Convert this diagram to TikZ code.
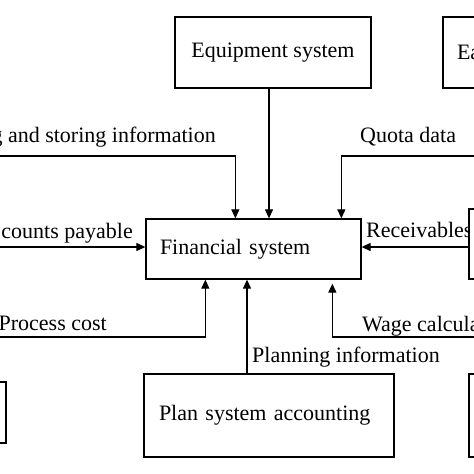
\documentclass[tikz,border=0pt]{standalone}
\usepackage{fontspec}
\setmainfont{Liberation Serif}
\usetikzlibrary{arrows.meta}
\begin{document}
\begin{tikzpicture}[x=1pt,y=-1pt, font=\fontsize{22}{26}\selectfont,
  box/.style={draw, line width=1.3pt, fill=white, inner sep=0pt},
  arr/.style={line width=1.2pt, -{Triangle[length=9pt,width=8pt]}},
  lbl/.style={inner sep=0pt}]
\useasboundingbox (0,0) rectangle (474,474);
\clip (0,0) rectangle (474,474);
\fill[white] (0,0) rectangle (474,474);
% labels
\node[lbl, anchor=base east] (t1) at (216,142) {g and storing information};
\node[lbl, anchor=base west] (t2) at (360,142) {Quota data};
\node[lbl, anchor=base east] (t3) at (133,238) {counts payable};
\node[lbl, anchor=base west] (t4) at (366,237) {Receivables};
\node[lbl, anchor=base east] (t5) at (107,330) {Process cost};
\node[lbl, anchor=base west] (t6) at (362,331) {Wage calcula};
\node[lbl, anchor=base west] (t7) at (252,362) {Planning information};
% boxes
\node[box, minimum width=196pt, minimum height=71pt] (eq) at (273,52.5) {Equipment system};
\node[box, minimum height=71pt, text width=172pt, inner xsep=14pt, align=left] (ea) at (543,52.5) {Ea};
\node[box, minimum height=60pt, text width=187pt, inner xsep=14pt, align=left] (fin) at (253.5,249) {Financial system};
\node[box, minimum width=131pt, minimum height=70pt] (rb) at (534.5,244) {};
\node[box, minimum height=83pt, text width=220pt, inner xsep=15pt, align=left] (plan) at (269,415.5) {Plan system accounting};
\node[box, minimum width=156pt, minimum height=61pt] (lb) at (-72,412.5) {};
\node[box, minimum width=160pt, minimum height=83pt] (rbb) at (549,415.5) {};
% connectors
\coordinate (L1) at (-5,156);
\coordinate (R1) at (480,156);
\coordinate (L2) at (-5,247);
\coordinate (L3) at (-5,337);
\coordinate (R3) at (480,337);
\draw[arr] (L1) -| ([xshift=90pt]fin.north west);
\draw[arr] (R1) -| ([xshift=196pt]fin.north west);
\draw[arr] ([xshift=-4pt]eq.south) -- ([xshift=-4pt]eq.south |- fin.north);
\draw[arr] (L2) -- (L2 -| fin.west);
\draw[arr] (rb.west |- L2) -- (fin.east |- L2);
\draw[arr] (L3) -| ([xshift=60pt]fin.south west);
\draw[arr] ([xshift=-22pt]plan.north) -- ([xshift=-22pt]plan.north |- fin.south);
\draw[arr] (R3) -| ([xshift=187pt,yshift=-4pt]fin.south west);
\end{tikzpicture}
\end{document}
